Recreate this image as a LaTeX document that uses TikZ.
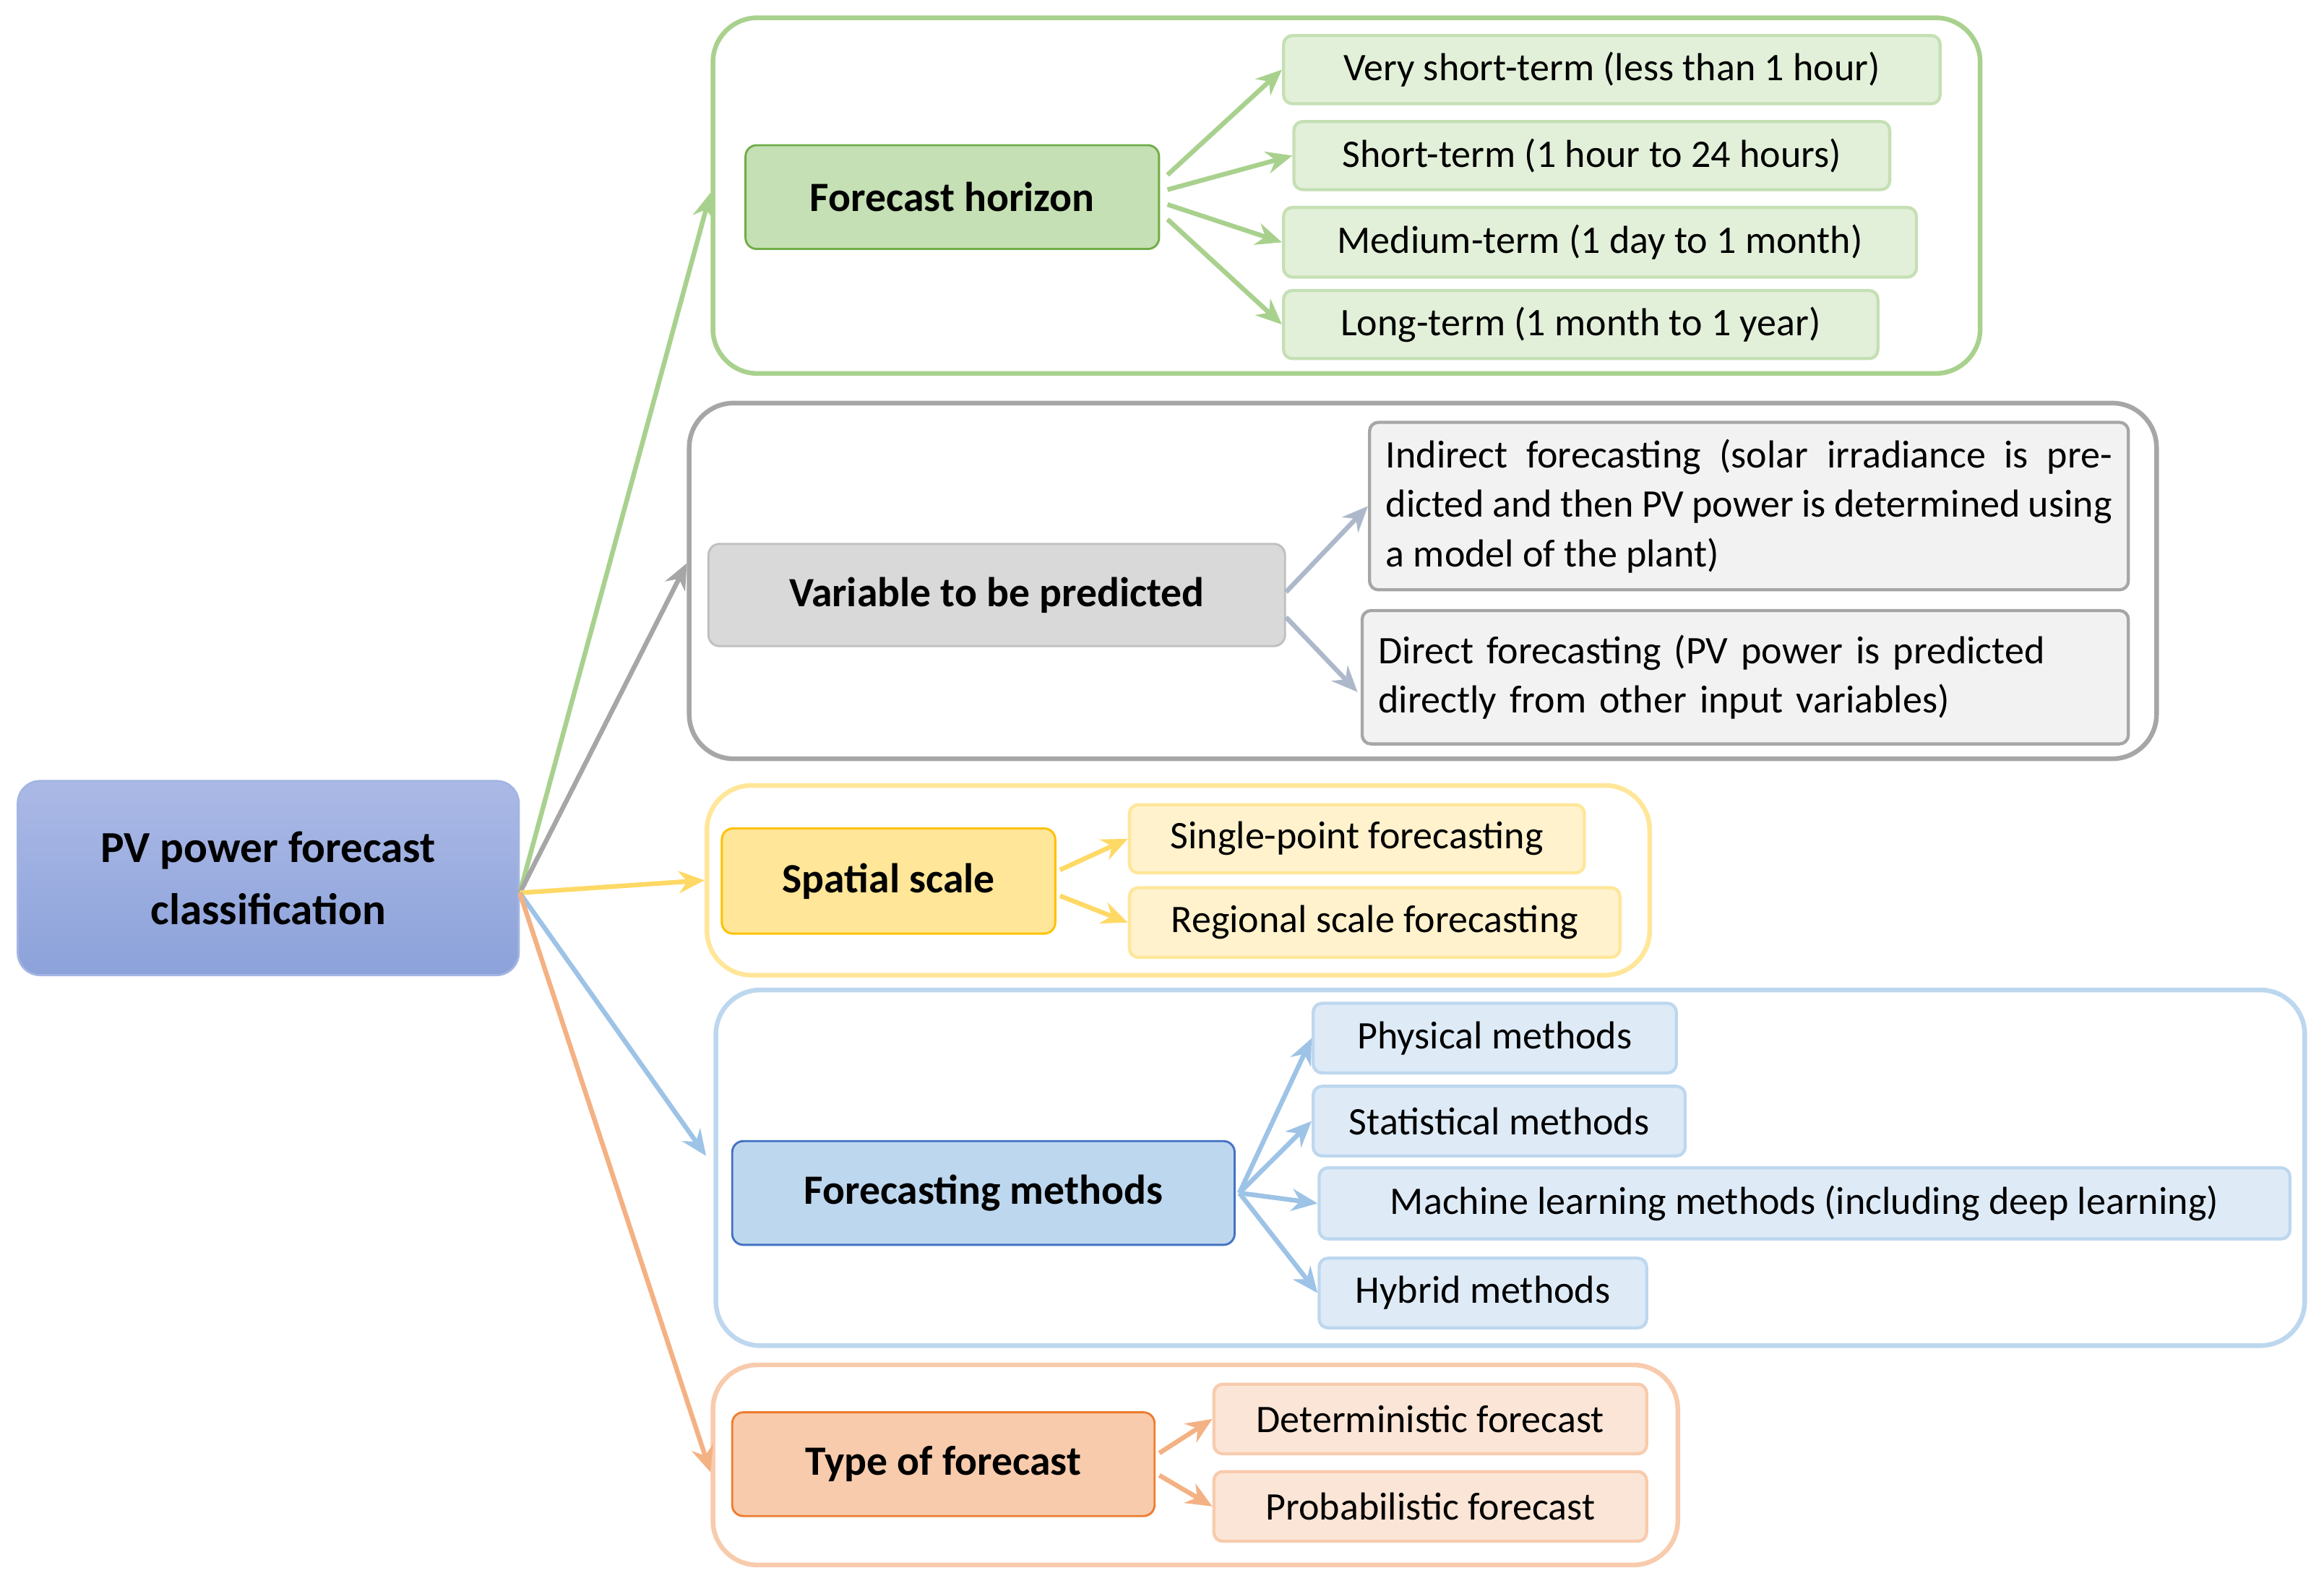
\documentclass[tikz,border=0pt]{standalone}
\usepackage{fontspec}
\setmainfont{Carlito}
\usetikzlibrary{arrows.meta}
\definecolor{gG}{HTML}{A9D18E}\definecolor{gF}{HTML}{C5E0B4}\definecolor{gD}{HTML}{70AD47}\definecolor{gL}{HTML}{E2F0D9}
\definecolor{kG}{HTML}{A6A6A6}\definecolor{kF}{HTML}{D9D9D9}\definecolor{kD}{HTML}{BFBFBF}\definecolor{kL}{HTML}{F2F2F2}\definecolor{kA}{HTML}{ADB9CA}
\definecolor{yG}{HTML}{FFE699}\definecolor{yD}{HTML}{FFC000}\definecolor{yL}{HTML}{FFF2CC}\definecolor{yA}{HTML}{FFD966}
\definecolor{bG}{HTML}{BDD7EE}\definecolor{bD}{HTML}{4472C4}\definecolor{bL}{HTML}{DEEBF7}\definecolor{bA}{HTML}{9DC3E6}
\definecolor{oG}{HTML}{F8CBAD}\definecolor{oD}{HTML}{ED7D31}\definecolor{oL}{HTML}{FBE5D6}\definecolor{oA}{HTML}{F4B183}
\definecolor{rT}{HTML}{ABB9E6}\definecolor{rB}{HTML}{8CA2DA}
\newcommand\bx[7]{\node[#6, minimum width={(#4-#2)*0.02cm}, minimum height={(#5-#3)*0.02cm}] (#1) at ({(#2+#4)/2},{(#3+#5)/2}) {#7};}
\begin{document}
\begin{tikzpicture}[x=0.02cm,y=-0.02cm,
  grp/.style={draw=#1, line width=1.8pt, rounded corners=0.6cm, inner sep=0},
  mid/.style n args={2}{draw=#2, fill=#1, line width=0.8pt, rounded corners=0.15cm, inner sep=0, font=\fontsize{16}{19}\selectfont\bfseries},
  leaf/.style n args={2}{draw=#2, fill=#1, line width=1.2pt, rounded corners=0.12cm, inner sep=0, font=\fontsize{15}{18}\selectfont},
  arr/.style={draw=#1, line width=1.8pt, -{Stealth[length=0.35cm,width=0.3cm]}}]
\useasboundingbox (0,0) rectangle (1568,1070);
% groups
\bx{g1}{481}{12}{1336}{252}{grp=gG}{}
\bx{g2}{465}{272}{1455}{512}{grp=kG}{}
\bx{g3}{477}{530}{1113}{658}{grp=yG}{}
\bx{g4}{483}{668}{1555}{908}{grp=bG}{}
\bx{g5}{481}{921}{1132}{1056}{grp=oG}{}
% root
\bx{root}{12}{527}{350}{658}{draw=rB!80!white, line width=0.8pt, rounded corners=0.3cm, top color=rT, bottom color=rB, inner sep=0, align=center, font=\fontsize{17}{24}\selectfont\bfseries}{PV power forecast\\classification}
% mids
\bx{fh}{503}{98}{782}{168}{mid={gF}{gD}}{Forecast horizon}
\bx{vp}{478}{367}{867}{436}{mid={kF}{kD}}{Variable to be predicted}
\bx{ss}{487}{559}{712}{630}{mid={yG}{yD}}{Spatial scale}
\bx{fm}{494}{770}{833}{840}{mid={bG}{bD}}{Forecasting methods}
\bx{tf}{494}{953}{779}{1023}{mid={oG}{oD}}{Type of forecast}
% leaves
\bx{l11}{866}{24}{1309}{70}{leaf={gL}{gF}}{Very short-term (less than 1 hour)}
\bx{l12}{873}{82}{1275}{128}{leaf={gL}{gF}}{Short-term (1 hour to 24 hours)}
\bx{l13}{866}{140}{1293}{187}{leaf={gL}{gF}}{Medium-term (1 day to 1 month)}
\bx{l14}{866}{196}{1267}{242}{leaf={gL}{gF}}{Long-term (1 month to 1 year)}
\bx{l21}{924}{285}{1436}{398}{leaf={kL}{kG},text width={(1436-924-22)*0.02cm},align=justify,font=\fontsize{15}{19}\selectfont}{Indirect forecasting (solar irradiance is predicted and then PV power is determined using a model of the plant)}
\bx{l22}{919}{412}{1436}{502}{leaf={kL}{kG},text width={(1436-919-22)*0.02cm},align=left,font=\fontsize{15}{19}\selectfont}{Direct forecasting (PV power is predicted directly from other input variables)}
\bx{l31}{762}{543}{1069}{589}{leaf={yL}{yG}}{Single-point forecasting}
\bx{l32}{762}{599}{1093}{646}{leaf={yL}{yG}}{Regional scale forecasting}
\bx{l41}{886}{677}{1131}{724}{leaf={bL}{bG}}{Physical methods}
\bx{l42}{886}{733}{1137}{780}{leaf={bL}{bG}}{Statistical methods}
\bx{l43}{890}{788}{1545}{836}{leaf={bL}{bG}}{Machine learning methods (including deep learning)}
\bx{l44}{890}{849}{1111}{896}{leaf={bL}{bG}}{Hybrid methods}
\bx{l51}{819}{934}{1111}{981}{leaf={oL}{oG}}{Deterministic forecast}
\bx{l52}{819}{993}{1111}{1040}{leaf={oL}{oG}}{Probabilistic forecast}
% root arrows
\draw[arr=gG] ([yshift=-0.2cm]root.east) -- ([yshift=0.04cm]g1.west);
\draw[arr=kG] ([yshift=-0.2cm]root.east) -- ([yshift=0.24cm]g2.west);
\draw[arr=yA] ([yshift=-0.2cm]root.east) -- (g3.west);
\draw[arr=bA] ([yshift=-0.2cm]root.east) -- ([xshift=-0.1cm,yshift=0.16cm]g4.west);
\draw[arr=oA] ([yshift=-0.2cm]root.east) -- ([yshift=-0.1cm]g5.west);
% group 1
\draw[arr=gG] ([xshift=0.1cm,yshift=0.3cm]fh.east) -- (l11.west);
\draw[arr=gG] ([xshift=0.1cm,yshift=0.1cm]fh.east) -- (l12.west);
\draw[arr=gG] ([xshift=0.1cm,yshift=-0.1cm]fh.east) -- (l13.west);
\draw[arr=gG] ([xshift=0.1cm,yshift=-0.3cm]fh.east) -- (l14.west);
% group 2
\draw[arr=kA] ([yshift=0.04cm]vp.east) -- (l21.west);
\draw[arr=kA] ([yshift=-0.3cm]vp.east) -- ([xshift=-0.04cm,yshift=-0.2cm]l22.west);
% group 3
\draw[arr=yA] ([xshift=0.05cm,yshift=0.15cm]ss.east) -- (l31.west);
\draw[arr=yA] ([xshift=0.05cm,yshift=-0.2cm]ss.east) -- (l32.west);
% group 4
\draw[arr=bA] ([xshift=0.05cm]fm.east) -- (l41.west);
\draw[arr=bA] ([xshift=0.05cm]fm.east) -- (l42.west);
\draw[arr=bA] ([xshift=0.05cm]fm.east) -- (l43.west);
\draw[arr=bA] ([xshift=0.05cm]fm.east) -- (l44.west);
% group 5
\draw[arr=oA] ([xshift=0.05cm,yshift=0.15cm]tf.east) -- (l51.west);
\draw[arr=oA] ([xshift=0.05cm,yshift=-0.15cm]tf.east) -- (l52.west);
\end{tikzpicture}
\end{document}
